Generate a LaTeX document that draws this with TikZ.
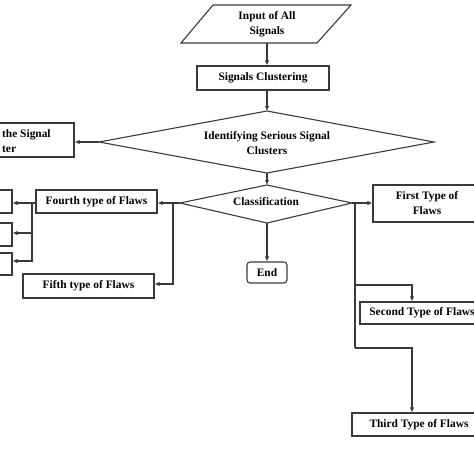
\documentclass[tikz,border=0pt]{standalone}
\usepackage{fontspec}
\setmainfont{Liberation Serif}
\usetikzlibrary{arrows.meta}
\definecolor{linecol}{RGB}{58,58,58}
\tikzset{
  conn/.style={draw=linecol, line width=1.1pt, -{Latex[length=5pt,width=4.5pt]}},
  plain/.style={draw=linecol, line width=1.1pt},
  box/.style={draw=linecol, line width=1.1pt, inner sep=0pt, align=center,
     font=\fontsize{11.4}{15}\selectfont\bfseries},
  lbl/.style={inner sep=0pt, align=center, font=\fontsize{11.4}{15}\selectfont\bfseries},
}
\begin{document}
\begin{tikzpicture}[x=1pt,y=-1pt]
\useasboundingbox (0,0) rectangle (474,474);
\clip (0,0) rectangle (474,474);
% input parallelogram
\draw[plain] (213,5) -- (351,5) -- (317,43) -- (181,43) -- cycle;
\node[lbl, minimum height=38pt] (inp) at (267,24) {Input of All\\Signals};
% clustering
\node[box, minimum width=132pt, minimum height=24pt] (clus) at (263,78) {Signals Clustering};
% serious diamond
\coordinate (sdT) at (267,111);
\coordinate (sdL) at (99,142);
\coordinate (sdR) at (434,142);
\coordinate (sdB) at (267,173);
\draw[plain] (sdT) -- (sdR) -- (sdB) -- (sdL) -- cycle;
\node[lbl] (sd) at (267,143) {Identifying Serious Signal\\Clusters};
% remove box
\node[box, minimum width=94pt, minimum height=34pt] (rem) at (27,140) {};
\node[lbl, anchor=west, align=left] (remtxt) at (2,141) {the Signal\\ter};
% classification diamond
\coordinate (cdT) at (267,185);
\coordinate (cdL) at (180,203);
\coordinate (cdR) at (352,203);
\coordinate (cdB) at (267,223);
\draw[plain] (cdT) -- (cdR) -- (cdB) -- (cdL) -- cycle;
\node[lbl] (cd) at (266,202) {Classification};
% end
\node[box, rounded corners=3pt, minimum width=40pt, minimum height=21pt] (endn) at (267,272.5) {End};
% fourth, fifth
\node[box, minimum width=121pt, minimum height=23pt] (fourth) at (96.5,201.5) {Fourth type of Flaws};
\node[box, minimum width=131pt, minimum height=24pt] (fifth) at (88.5,286) {Fifth type of Flaws};
% left small boxes
\node[box, minimum width=32pt, minimum height=23pt] (b1) at (-4,201.5) {};
\node[box, minimum width=32pt, minimum height=23pt] (b2) at (-4,234.5) {};
\node[box, minimum width=32pt, minimum height=22pt] (b3) at (-4,264) {};
% right boxes
\node[box, minimum width=108pt, minimum height=37pt] (first) at (427,203.5) {First Type of\\Flaws};
\node[box, minimum width=124pt, minimum height=22pt] (second) at (422,313) {Second Type of Flaws};
\node[box, minimum width=134pt, minimum height=23pt] (third) at (419,424.5) {Third Type of Flaws};
% connectors
\draw[conn] (inp.south -| sdT) -- (sdT |- clus.north);
\draw[conn] (sdT |- clus.south) -- (sdT);
\draw[conn] (sdL) -- (rem.east |- sdL);
\draw[conn] (sdB) -- (cdT);
\draw[conn] (cdB) -- (endn.north);
\draw[conn] (cdL) -- (fourth.east |- cdL);
\coordinate (jl) at (173,203);
\draw[conn] (jl) -- (173,284) -- (fifth.east |- 0,284);
\draw[conn] (cdR) -- (first.west |- cdR);
\coordinate (jr) at (355,203);
\draw[plain] (jr) -- (355,348);
\draw[conn] (355,348) -- (412,348) -- (412,0 |- third.north);
\draw[conn] (355,285) -- (412,285) -- (412,0 |- second.north);
\draw[conn] (fourth.west |- 0,203) -- (b1.east |- 0,203);
\coordinate (jb) at (32,203);
\draw[conn] (jb) |- (b2.east |- 0,233);
\draw[conn] (jb) |- (b3.east |- 0,261);
\end{tikzpicture}
\end{document}
